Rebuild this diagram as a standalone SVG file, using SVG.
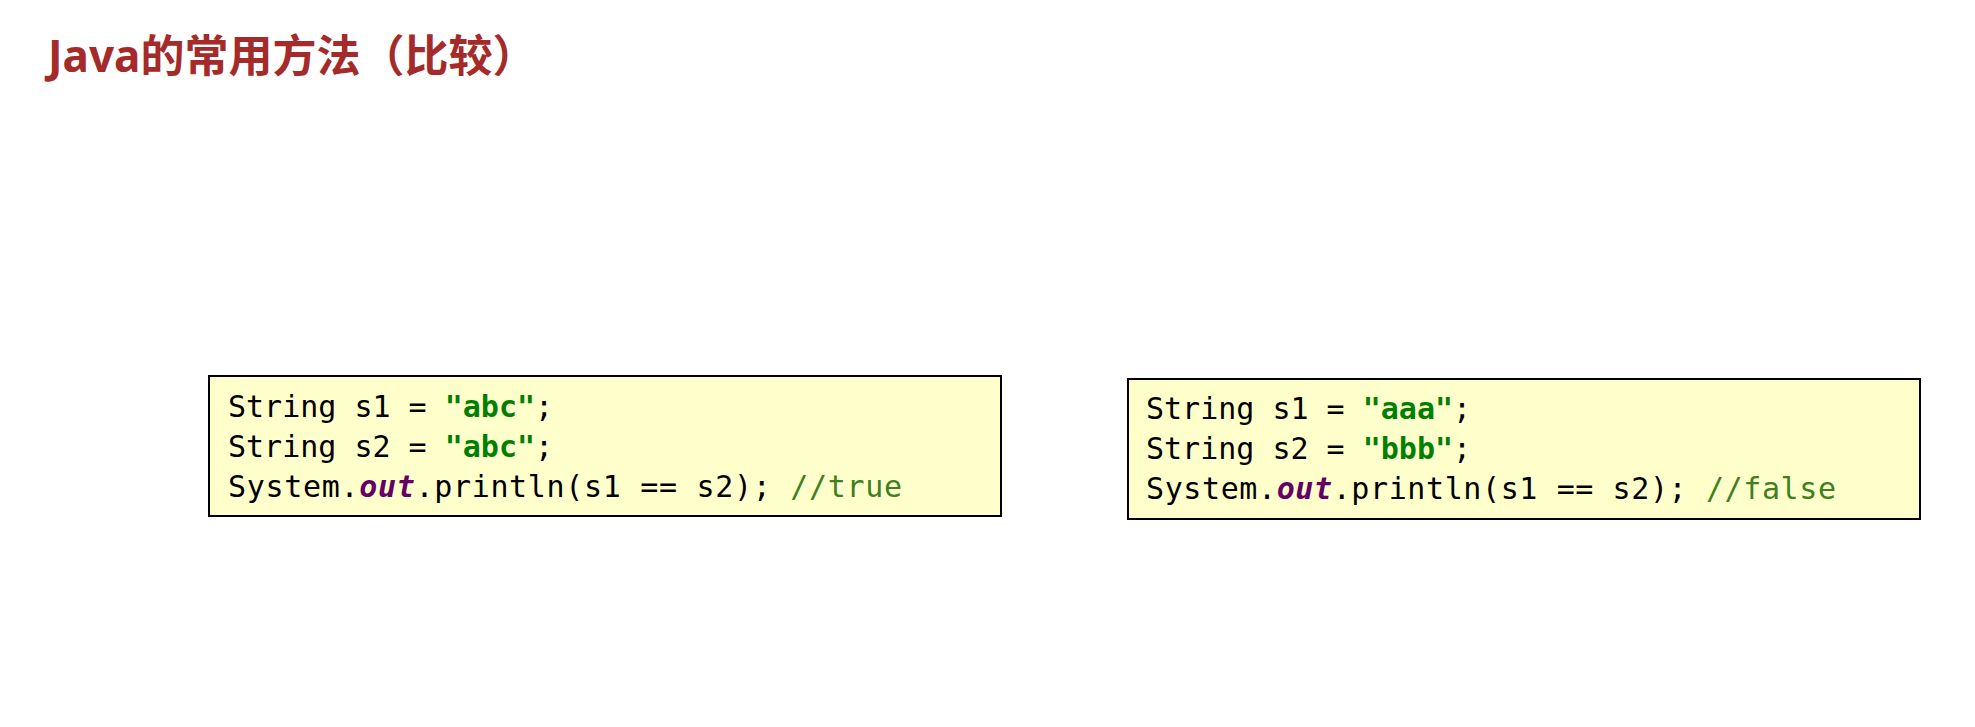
<svg xmlns="http://www.w3.org/2000/svg" width="1975" height="727" viewBox="0 0 1975 727">
<style>
.t{font-family:"Noto Sans","Noto Sans CJK SC",sans-serif;font-size:44px;font-weight:bold;fill:#A52A2A}
.box{fill:#FFFFCC;stroke:#000;stroke-width:2}
.c{font-family:"DejaVu Sans Mono","Liberation Mono",monospace;font-size:30px;fill:#000}
.s{fill:#008000;font-weight:bold}
.o{fill:#660066;font-style:italic;font-weight:bold}
.m{fill:#3F7F1F}
</style>
<rect width="1975" height="727" fill="#fff"/>
<text class="t" x="48" y="72">Java的常用方法（比较）</text>
<g id="box1">
<rect class="box" x="209" y="376" width="792" height="140"/>
<text class="c" x="228" y="417">String s1 = <tspan class="s">"abc"</tspan>;</text>
<text class="c" x="228" y="457">String s2 = <tspan class="s">"abc"</tspan>;</text>
<text class="c" x="228" y="497" textLength="674">System.<tspan class="o">out</tspan>.println(s1 == s2); <tspan class="m">//true</tspan></text>
</g>
<g id="box2">
<rect class="box" x="1128" y="379" width="792" height="140"/>
<text class="c" x="1146" y="419">String s1 = <tspan class="s">"aaa"</tspan>;</text>
<text class="c" x="1146" y="459">String s2 = <tspan class="s">"bbb"</tspan>;</text>
<text class="c" x="1146" y="499" textLength="690">System.<tspan class="o">out</tspan>.println(s1 == s2); <tspan class="m">//false</tspan></text>
</g>
<g id="connectors"/>
</svg>
